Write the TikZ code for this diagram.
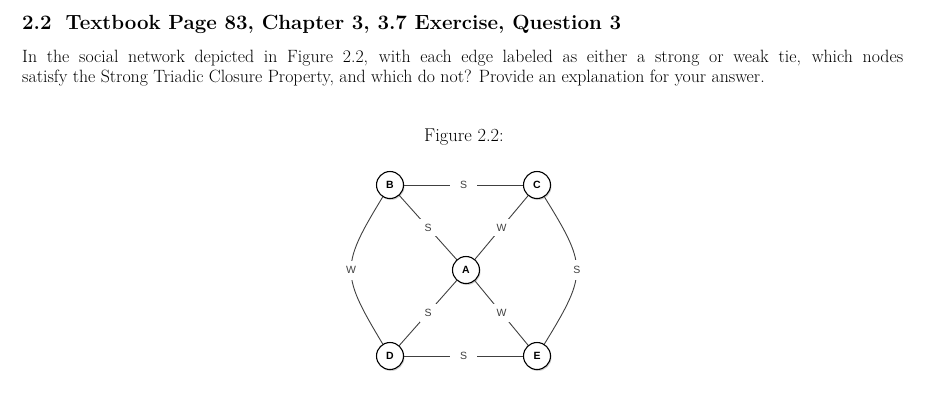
\documentclass[tikz,border=0pt]{standalone}
\usepackage{fontspec}
\setsansfont{Liberation Sans}
\usetikzlibrary{shadows}
\begin{document}
\begin{tikzpicture}[x=1pt,y=-1pt,
  vtx/.style={circle,draw,line width=1.1pt,fill=white,minimum size=27pt,inner sep=0pt,font=\sffamily\bfseries\fontsize{10.5}{10}\selectfont,drop shadow={shadow xshift=1pt,shadow yshift=-1.5pt,opacity=0.35}},
  lbl/.style={fill=white,inner sep=3pt,font=\sffamily\fontsize{10.5}{10}\selectfont,text=black!75},
  edge/.style={draw=black!75,line width=0.9pt}]
\useasboundingbox (0,0) rectangle (938,408);
\node[anchor=base west,inner sep=0pt,font=\bfseries\fontsize{20.5}{22}\selectfont] (h) at (22,29) {2.2\hspace{14pt}Textbook Page 83, Chapter 3, 3.7 Exercise, Question 3};
\node[anchor=base west,inner sep=0pt,font=\fontsize{17.8}{19}\selectfont] (l1) at (22,62) {\makebox[881pt][s]{In the social network depicted in Figure 2.2, with each edge labeled as either a strong or weak tie, which nodes}};
\node[anchor=base west,inner sep=0pt,font=\fontsize{17.8}{19}\selectfont] (l2) at (22,82) {satisfy the Strong Triadic Closure Property, and which do not? Provide an explanation for your answer.};
\node[font=\fontsize{18.5}{19}\selectfont] (cap) at (464,137) {Figure 2.2:};
\coordinate (B) at (390,185);
\coordinate (C) at (537,185);
\coordinate (A) at (466,270);
\coordinate (D) at (390,356);
\coordinate (E) at (537,356);
\draw[edge] (B) -- node[lbl,inner xsep=10pt]{S} (C);
\draw[edge] (D) -- node[lbl,inner xsep=10pt]{S} (E);
\draw[edge] (B) -- node[lbl,inner sep=5pt]{S} (A);
\draw[edge] (C) -- node[lbl,inner sep=5pt]{W} (A);
\draw[edge] (D) -- node[lbl,inner sep=5pt]{S} (A);
\draw[edge] (E) -- node[lbl,inner sep=5pt]{W} (A);
\draw[edge] (B) .. controls (338,270) and (338,270) .. node[lbl,inner ysep=6pt]{W} (D);
\draw[edge] (C) .. controls (590,270) and (590,270) .. node[lbl,inner ysep=6pt]{S} (E);
\node[vtx] (nB) at (B) {B};
\node[vtx] (nC) at (C) {C};
\node[vtx] (nA) at (A) {A};
\node[vtx] (nD) at (D) {D};
\node[vtx] (nE) at (E) {E};
\end{tikzpicture}
\end{document}
